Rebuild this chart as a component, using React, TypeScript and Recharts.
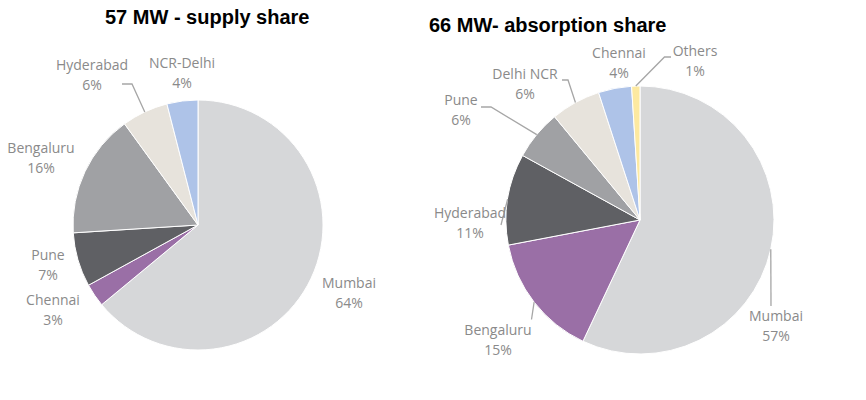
import { PieChart, Pie, Cell } from 'recharts';

const supplyCities = ['Mumbai', 'Chennai', 'Pune', 'Bengaluru', 'Hyderabad', 'NCR-Delhi'];
const supplyShare = [64, 3, 7, 16, 6, 4];

const absorptionCities = ['Mumbai', 'Bengaluru', 'Hyderabad', 'Pune', 'Delhi NCR', 'Chennai', 'Others'];
const absorptionShare = [57, 15, 11, 6, 6, 4, 1];

const supplyColors = ['#d6d7d9', '#9a6fa6', '#5f6064', '#a0a1a4', '#e7e3dc', '#aec3e8'];
const absorptionColors = ['#d6d7d9', '#9a6fa6', '#5f6064', '#a0a1a4', '#e7e3dc', '#aec3e8', '#fde9a0'];

// label block centre, relative to the pie centre
const supplyLabelPos = [[151, 58], [-145, 75], [-150, 30], [-157, -77], [-106, -160], [-16, -162]];
const absorptionLabelPos = [[136, 96], [-142, 110], [-170, -7], [-179, -120], [-115, -146], [-21, -167], [55, -169]];

// leader lines: elbow x, elbow y, end x (relative to the pie centre)
const supplyLeaders: (number[] | null)[] = [null, null, null, null, [-66, -141, -76], null];
const absorptionLeaders: (number[] | null)[] = [
  [131, 86, 131],
  [-108.5, 99.5, -108.5],
  [-139, 5, -139],
  [-149, -113, -159],
  [-72, -140, -78],
  null,
  [24.5, -163, 31],
];

const supplyData = supplyCities.map((name, i) => ({ name, value: supplyShare[i] }));
const absorptionData = absorptionCities.map((name, i) => ({ name, value: absorptionShare[i] }));

const RAD = Math.PI / 180;

function makeLabel(names: string[], values: number[], pos: number[][], leaders: (number[] | null)[]) {
  return (props: any) => {
    const { cx, cy, midAngle, outerRadius, index } = props;
    const [dx, dy] = pos[index];
    const x = cx + dx;
    const y = cy + dy;
    const leader = leaders[index];
    let line = null;
    if (leader) {
      const sx = cx + outerRadius * Math.cos(-midAngle * RAD);
      const sy = cy + outerRadius * Math.sin(-midAngle * RAD);
      const [ex, ey, hx] = leader;
      line = (
        <polyline
          points={`${sx},${sy} ${cx + ex},${cy + ey} ${cx + hx},${cy + ey}`}
          fill="none"
          stroke="#a6a6a6"
          strokeWidth={1.3}
        />
      );
    }
    return (
      <g>
        {line}
        <text x={x} y={y + 5} textAnchor="middle" fill="#8a8a8a" fontSize={14} fontFamily="'Open Sans', sans-serif">
          <tspan x={x}>{names[index]}</tspan>
          <tspan x={x} dy={20}>{values[index]}%</tspan>
        </text>
      </g>
    );
  };
}

const titleStyle: React.CSSProperties = {
  position: 'absolute',
  fontFamily: "'Liberation Sans', Arial, sans-serif",
  fontWeight: 'bold',
  fontSize: 20,
  color: '#000',
  whiteSpace: 'nowrap',
  zIndex: 1,
};

export default function App() {
  return (
    <div style={{ position: 'absolute', left: 0, top: 0, width: 866, height: 400, background: '#fff' }}>
      <PieChart
        width={866}
        height={400}
        margin={{ top: 0, right: 0, bottom: 0, left: 0 }}
        style={{ position: 'absolute', left: 0, top: 0 }}
      >
        <Pie
          data={supplyData}
          dataKey="value"
          nameKey="name"
          cx={198}
          cy={225}
          outerRadius={125}
          startAngle={90}
          endAngle={-270}
          stroke="#fff"
          strokeWidth={1}
          isAnimationActive={false}
          labelLine={false}
          label={makeLabel(supplyCities, supplyShare, supplyLabelPos, supplyLeaders)}
        >
          {supplyData.map((d, i) => (
            <Cell key={d.name} fill={supplyColors[i]} />
          ))}
        </Pie>
        <Pie
          data={absorptionData}
          dataKey="value"
          nameKey="name"
          cx={640}
          cy={220}
          outerRadius={134}
          startAngle={90}
          endAngle={-270}
          stroke="#fff"
          strokeWidth={1}
          isAnimationActive={false}
          labelLine={false}
          label={makeLabel(absorptionCities, absorptionShare, absorptionLabelPos, absorptionLeaders)}
        >
          {absorptionData.map((d, i) => (
            <Cell key={d.name} fill={absorptionColors[i]} />
          ))}
        </Pie>
      </PieChart>
      <div style={{ ...titleStyle, left: 105, top: 6 }}>57 MW - supply share</div>
      <div style={{ ...titleStyle, left: 429, top: 14 }}>66 MW- absorption share</div>
    </div>
  );
}
